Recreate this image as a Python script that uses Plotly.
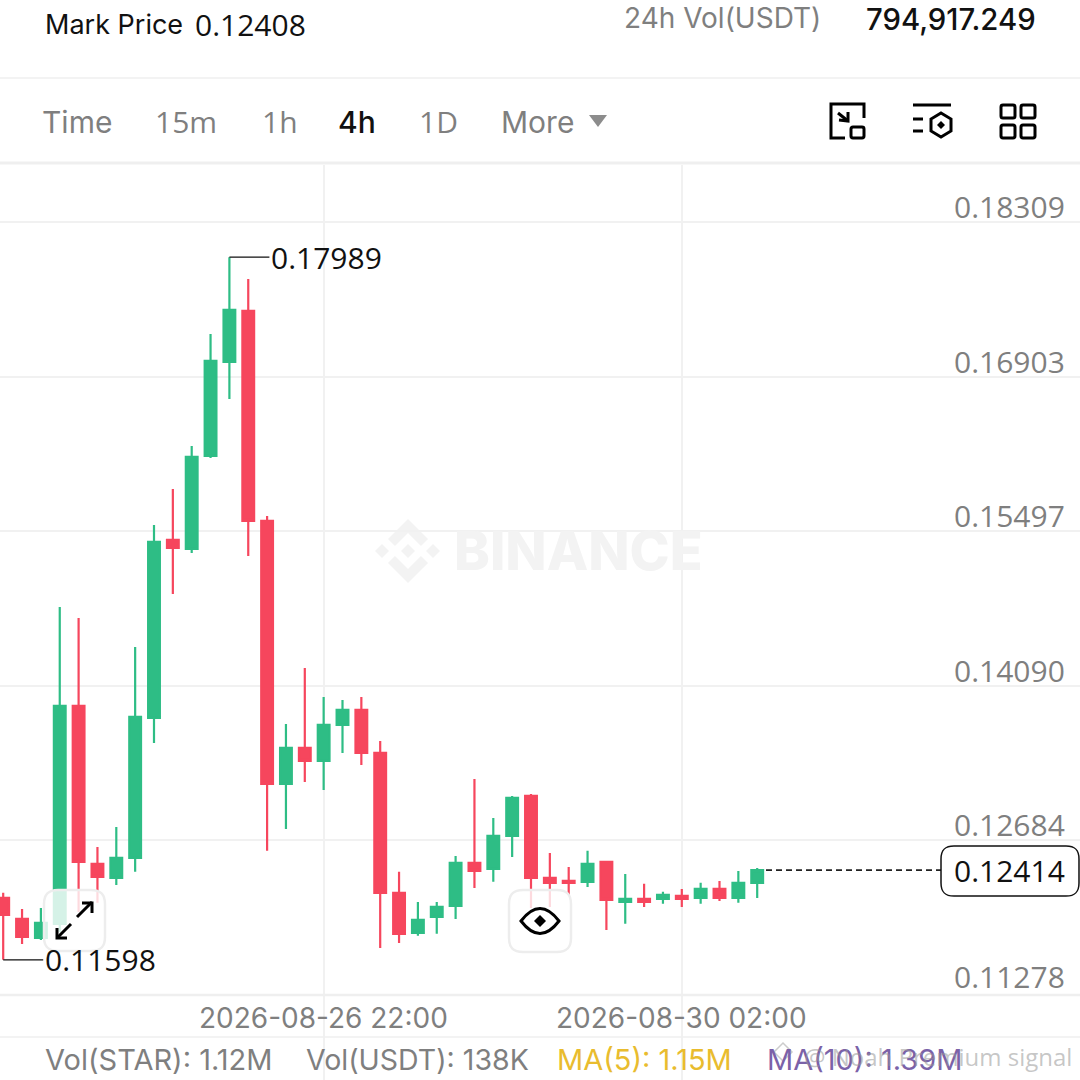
import pandas as pd
import plotly.graph_objects as go

START = "2026-08-24 02:00"
opens = [.12161,.11970,.11797,.11925,.13907,.12470,.12343,.12525,.13798,.15417,.15335,.16181,.17036,.17500,.15590,.13198,.13525,.13407,.13735,.13871,.13480,.12207,.11843,.11988,.12088,.12479,.12425,.12725,.13089,.12343,.12316,.12307,.12489,.12125,.12152,.12152,.12179,.12161,.12243,.12161,.12298]
highs = [.12207,.12061,.12070,.14808,.14708,.12625,.12807,.14444,.15553,.15881,.16272,.17290,.17989,.17791,.15635,.13744,.14253,.13989,.13962,.13989,.13589,.12398,.12125,.12125,.12543,.13243,.12889,.13089,.13107,.12570,.12443,.12589,.12489,.12379,.12289,.12216,.12243,.12298,.12316,.12407,.12434]
lows = [.11598,.11743,.11779,.11852,.12034,.12116,.12279,.12398,.13571,.14926,.15299,.16163,.16699,.15271,.12589,.12789,.13216,.13143,.13480,.13371,.11706,.11752,.11816,.11834,.11970,.12252,.12307,.12534,.12070,.12079,.12188,.12261,.11870,.11925,.12079,.12107,.12079,.12107,.12134,.12116,.12161]
closes = [.12007,.11807,.11934,.13907,.12489,.12352,.12525,.13807,.15399,.15344,.16172,.17045,.17509,.15590,.13198,.13525,.13407,.13735,.13871,.13480,.12207,.11834,.11961,.12079,.12479,.12407,.12725,.13071,.12343,.12298,.12298,.12470,.12143,.12152,.12125,.12188,.12152,.12243,.12161,.12298,.12414]
price_ticks = [.18309,.16903,.15497,.14090,.12684,.11278]
price_labels = ["0.18309","0.16903","0.15497","0.14090","0.12684","0.11278"]
date_ticks = ["2026-08-26 22:00","2026-08-30 02:00"]
HIGH_LABEL = "0.17989"
LOW_LABEL = "0.11598"
LAST_PRICE = .12414

GREEN = "#2EBD85"; RED = "#F6465D"; GRID = "#F1F1F1"; GRAY = "#7F7F7F"; INK = "#111111"
FONT = "Inter"; NUM = "Open Sans"
dates = pd.date_range(START, periods=len(opens), freq="4h")

def px(x): return x / 1080
def py(y): return 1 - y / 1080
def path(points, close=False):
    s = "M " + " L ".join(f"{px(x):.5f},{py(y):.5f}" for x, y in points)
    return s + (" Z" if close else "")
def rrect(x0, y0, x1, y1, r):
    k = 0.3 * r
    p = lambda x, y: f"{px(x):.5f},{py(y):.5f}"
    return (f"M {p(x0+r,y0)} L {p(x1-r,y0)} C {p(x1-k,y0)} {p(x1,y0+k)} {p(x1,y0+r)} "
            f"L {p(x1,y1-r)} C {p(x1,y1-k)} {p(x1-k,y1)} {p(x1-r,y1)} "
            f"L {p(x0+r,y1)} C {p(x0+k,y1)} {p(x0,y1-k)} {p(x0,y1-r)} "
            f"L {p(x0,y0+r)} C {p(x0,y0+k)} {p(x0+k,y0)} {p(x0+r,y0)} Z")

shapes = []
def add(d, color=None, width=0, fill=None, layer="above"):
    shapes.append(dict(type="path", xref="paper", yref="paper", path=d, layer=layer,
                       line=dict(color=color or "rgba(0,0,0,0)", width=width),
                       fillcolor=fill or "rgba(0,0,0,0)"))

# separators
for y, w in [(78, 1.5), (163, 3), (995, 2.5), (1037, 1.5)]:
    add(path([(0, y), (1080, y)]), "#EFEFEF", w)

# watermark logo
WM = "#F3F3F3"
add(path([(408,519),(428,539),(421,546),(408,533),(395,546),(388,539)], True), fill=WM, layer="below")
add(path([(408,583),(428,563),(421,556),(408,569),(395,556),(388,563)], True), fill=WM, layer="below")
for cx in (382, 408, 433):
    add(path([(cx,544),(cx+7,551),(cx,558),(cx-7,551)], True), fill=WM, layer="below")

# buttons
add(rrect(44, 890, 105, 951, 14), "#EDEDED", 2.5, "rgba(255,255,255,0.8)")
add(rrect(509, 890, 571, 952, 14), "#EDEDED", 2.5, "rgba(255,255,255,0.8)")
for pts in ([(77,917),(92,902)], [(82,903),(92,903),(92,913)], [(71,924),(57,938)], [(57,928),(57,938),(67,938)]):
    add(path(pts), "#000000", 3)
p = lambda x, y: f"{px(x):.5f},{py(y):.5f}"
add(f"M {p(521,921)} Q {p(540,896)} {p(559,921)} Q {p(540,946)} {p(521,921)} Z", "#000000", 3)
add(path([(540,915),(546,921),(540,927),(534,921)], True), fill="#000000")

# current price box and leader
shapes.append(dict(type="line", xref="paper", yref="y", x0=px(766), x1=px(941), y0=LAST_PRICE, y1=LAST_PRICE,
                   line=dict(color="#222222", width=1.8, dash="6px,4px"), layer="above"))
add(rrect(941, 846, 1079, 896, 13), "#111111", 1.5, "#FFFFFF")

# corner watermark mark
add(path([(783,1043),(792,1052),(783,1061),(774,1052)], True), "rgba(170,170,170,0.6)", 1.5)

# header icons
B = "#000000"
add(path([(864,118),(864,104),(831,104),(831,138),(845,138)]), B, 3)
add(rrect(851, 127, 864, 138, 2), B, 3)
add(path([(838,113),(848,121)]), B, 3)
add(path([(839,120),(848,121),(848,112)]), B, 3)
add(path([(913,105),(951,105)]), B, 3)
add(path([(913,119),(923,119)]), B, 3)
add(path([(913,131),(923,131)]), B, 3)
add(path([(941,113),(951,119),(951,131),(941,137),(931,131),(931,119)], True), B, 3)
add(path([(941,121),(945,125),(941,129),(937,125)], True), fill=B)
for x0, y0 in [(1001,105),(1021,105),(1001,125),(1021,125)]:
    add(rrect(x0, y0, x0+14, y0+13, 2), B, 3)
add(path([(589,115),(607,115),(598,127)], True), fill="#8C8C8C")

annotations = []
def text(s, x, y, size, color, anchor="left", weight=400, family=FONT):
    annotations.append(dict(text=s, xref="paper", yref="paper", x=px(x), y=py(y), xanchor=anchor, yanchor="middle",
                            showarrow=False, font=dict(family=family, size=size, color=color, weight=weight)))

text("Mark Price", 43, 25, 27, INK)
text("0.12408", 193, 25, 30, INK, family=NUM)
text("24h Vol(USDT)", 622, 18, 28, GRAY)
text("794,917.249", 864, 19, 29.3, INK, weight=500)
for s, x, f, c, w in [("Time",40,FONT,GRAY,400),("15m",153,NUM,GRAY,400),("1h",260,NUM,GRAY,400),
                      ("4h",336,FONT,INK,500),("1D",417,NUM,GRAY,400),("More",499,FONT,GRAY,400)]:
    text(s, x, 122, 30, c, weight=w, family=f)
text("BINANCE", 452, 550, 54, WM, weight=800)

for k, (v, s) in enumerate(zip(price_ticks, price_labels)):
    annotations.append(dict(text=s, xref="paper", yref="y", x=1, y=v, xanchor="right", yanchor="middle",
                            xshift=-13, yshift=19 if k == len(price_ticks) - 1 else 15.5, showarrow=False,
                            font=dict(family=NUM, size=30, color=GRAY)))
for d in date_ticks:
    annotations.append(dict(text=d, xref="x", yref="paper", x=d, y=py(1017.5), xanchor="center", yanchor="middle",
                            showarrow=False, font=dict(family=FONT, size=28, color=GRAY)))
i_hi = highs.index(max(highs)); i_lo = lows.index(min(lows))
for i, v, s in [(i_hi, highs[i_hi], HIGH_LABEL), (i_lo, lows[i_lo], LOW_LABEL)]:
    annotations.append(dict(text=s, xref="x", yref="y", x=dates[i], y=v, ax=40, ay=0, axref="pixel", ayref="pixel",
                            xanchor="left", yanchor="middle", showarrow=True, arrowhead=0, arrowwidth=1.2,
                            arrowcolor="#111111", standoff=0, font=dict(family=NUM, size=30, color=INK)))
annotations.append(dict(text=f"{LAST_PRICE:.5f}", xref="paper", yref="y", x=px(1067), y=LAST_PRICE, xanchor="right",
                        yanchor="middle", showarrow=False, font=dict(family=NUM, size=30, color=INK)))

text("Vol(STAR): 1.12M", 43, 1059, 29, GRAY)
text("Vol(USDT): 138K", 304, 1059, 28.5, GRAY)
text("MA(5): 1.15M", 555, 1059, 29, "#E9BC2E")
text("MA(10): 1.39M", 765, 1059, 29, "#7B62A8")
text("@ Noah Premium signal", 1074, 1056, 24, "rgba(150,150,150,0.55)", anchor="right", family="Open Sans")

fig = go.Figure(go.Candlestick(
    x=dates, open=opens, high=highs, low=lows, close=closes, hoverinfo="skip",
    increasing=dict(line=dict(color=GREEN, width=2.2), fillcolor=GREEN),
    decreasing=dict(line=dict(color=RED, width=2.2), fillcolor=RED),
    whiskerwidth=0,
))
H4 = pd.Timedelta(hours=4)
x_lo = dates[0] - H4 * (3.2 / 18.85)
x_hi = dates[0] + H4 * ((1080 - 3.2) / 18.85)
UNIT = (price_ticks[0] - price_ticks[-1]) / (995 - 222)
y_top = price_ticks[0] + (222 - 165) * UNIT
y_bot = price_ticks[-1] - (1080 - 995) * UNIT
fig.update_layout(
    width=1080, height=1080, margin=dict(l=0, r=0, t=0, b=0), paper_bgcolor="white", plot_bgcolor="white",
    showlegend=False, boxgap=0.11, shapes=shapes, annotations=annotations,
    xaxis=dict(type="date", range=[x_lo, x_hi], tickvals=date_ticks, showticklabels=False, showgrid=True,
               gridcolor=GRID, gridwidth=1.5, rangeslider=dict(visible=False), zeroline=False, ticks="", showline=False),
    yaxis=dict(domain=[0, py(165)], range=[y_bot, y_top], tickvals=price_ticks, showticklabels=False, showgrid=True,
               gridcolor=GRID, gridwidth=1.5, zeroline=False, ticks="", showline=False),
)
fig.write_html("out.html", config=dict(displayModeBar=False),
               post_script="document.body.style.margin='0';")
